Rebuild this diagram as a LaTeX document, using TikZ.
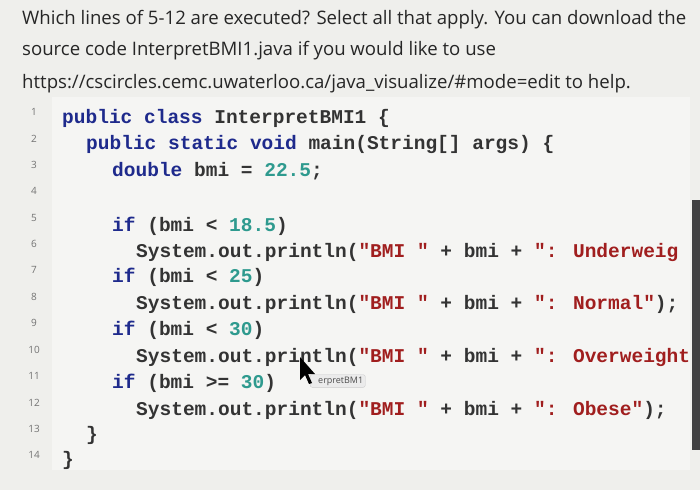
\documentclass[tikz,border=0pt]{standalone}
\usepackage{fontspec}
\setmainfont{Open Sans}
\newfontfamily\codefont{Liberation Mono}
\definecolor{kw}{HTML}{1E2A8C}
\definecolor{num}{HTML}{2E9A8E}
\definecolor{str}{HTML}{A01E1E}
\definecolor{txt}{HTML}{333333}
\definecolor{bg}{HTML}{EFEFEC}
\definecolor{codebg}{HTML}{F5F5F3}
\newcommand{\K}[1]{\textcolor{kw}{#1}}
\newcommand{\N}[1]{\textcolor{num}{#1}}
\newcommand{\Sg}[1]{\textcolor{str}{#1}}
\begin{document}
\begin{tikzpicture}[x=1pt,y=-1pt,
  title/.style={anchor=west,inner sep=0pt,font=\fontsize{18.6}{21}\selectfont,text=black!85},
  lnum/.style={anchor=center,inner sep=0pt,font=\fontsize{10}{12}\selectfont,text=black!55},
  code/.style={anchor=west,inner sep=0pt,font=\codefont\bfseries\fontsize{19.5}{22}\selectfont,text=txt}]
\fill[bg] (0,0) rectangle (700,490);
\useasboundingbox (0,0) rectangle (700,490);
\begin{scope}
\clip (0,0) rectangle (700,490);
\fill[codebg] (52,97) rectangle (690,470);
\fill[black!75] (692,200) rectangle (700,450);
\node[title] (t1) at (22,20) {Which lines of 5-12 are executed? Select all that apply. You can download the};
\node[title] (t2) at (22,51) {source code InterpretBMI1.java if you would like to use};
\node[title] (t3) at (22,84) {https://cscircles.cemc.uwaterloo.ca/java\_visualize/\#mode=edit to help.};
\foreach \i in {1,...,14} {\node[lnum] (n\i) at (34,{112+26.4*(\i-1)}) {\i};}
\node[code] (c1) at (62,118) {\K{public class} InterpretBMI1 \{};
\node[code] (c2) at (86,144) {\K{public static void} main(String[] args) \{};
\node[code] (c3) at (112,171) {\K{double} bmi = \N{22.5};};
\node[code] (c5) at (112,226) {\K{if} (bmi < \N{18.5})};
\node[code] (c6) at (136,252) {System.out.println(\Sg{"BMI "} + bmi + \Sg{": Underweig}};
\node[code] (c7) at (112,277) {\K{if} (bmi < \N{25})};
\node[code] (c8) at (136,304) {System.out.println(\Sg{"BMI "} + bmi + \Sg{": Normal"});};
\node[code] (c9) at (112,330) {\K{if} (bmi < \N{30})};
\node[code] (c10) at (136,357) {System.out.println(\Sg{"BMI "} + bmi + \Sg{": Overweight}};
\node[code] (c11) at (112,383) {\K{if} (bmi >= \N{30})};
\node[code] (c12) at (136,410) {System.out.println(\Sg{"BMI "} + bmi + \Sg{": Obese"});};
\node[code] (c13) at (86,435) {\}};
\node[code] (c14) at (62,460) {\}};
\node[draw=black!20,fill=black!8,rounded corners=2pt,inner sep=2pt,anchor=west,
  font=\fontsize{9}{10}\selectfont,text=black!70] (tip) at (310,381) {\hspace{6pt}erpretBM1};
\fill[black] (300,357) -- (300,380) -- (305,375) -- (309,384) -- (312,383) -- (308,374) -- (315,374) -- cycle;
\end{scope}
\end{tikzpicture}
\end{document}
